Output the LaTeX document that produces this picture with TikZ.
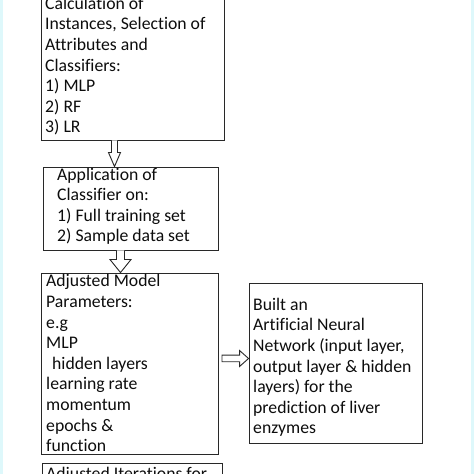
\documentclass[tikz,border=0pt]{standalone}
\usepackage{fontspec}
\setmainfont{Carlito}[Ligatures=NoCommon]
\usetikzlibrary{calc}
\definecolor{edgecyan}{RGB}{222,248,251}
\definecolor{inkc}{RGB}{40,40,40}
\tikzset{
  box/.style={draw=inkc, line width=0.9pt, fill=white, inner sep=0pt, rectangle},
  txt/.style={anchor=north west, align=left, inner sep=0pt, text=black!95,
    font=\fontsize{17.7}{20.6}\selectfont},
  blk/.style={draw=inkc, line width=0.9pt, fill=white, line join=miter}
}
\newcommand{\fs}{\rule{0pt}{14pt}}
\begin{document}
\begin{tikzpicture}[x=1pt,y=1pt]
\useasboundingbox (0,0) rectangle (474,474);
\clip (0,0) rectangle (474,474);
\fill[white] (0,0) rectangle (474,474);
\fill[edgecyan] (0,0) rectangle (3,474);
\fill[edgecyan] (471,0) rectangle (474,474);
% boxes
\node[box, minimum width=183pt, minimum height=150pt] (b1) at (132.5,409) {};
\node[box, minimum width=175pt, minimum height=83pt] (b2) at (130.5,265.5) {};
\node[box, minimum width=177pt, minimum height=181pt] (b3) at (129.5,110.5) {};
\node[box, minimum width=180pt, minimum height=37pt] (b4) at (132,-7.5) {};
\node[box, minimum width=173pt, minimum height=160pt] (b5) at (335.5,111) {};
% texts
\node[txt] (t1) at (45,478.8) {\fs Calculation of\\Instances, Selection of\\Attributes and\\Classifiers:\\1) MLP\\2) RF\\3) LR};
\node[txt] (t2) at (57,308) {\fs Application of\\Classifier on:\\1) Full training set\\2) Sample data set};
\node[txt] (t3) at (46,201.3) {\fs Adjusted Model\\Parameters:\\e.g\\MLP\\\hspace*{6pt}hidden layers\\learning rate\\momentum\\epochs \&\\function};
\node[txt] (t4) at (46,8.5) {\fs Adjusted Iterations for};
\node[txt] (t5) at (253,178) {\fs Built an\\Artificial Neural\\Network (input layer,\\output layer \& hidden\\layers) for the\\prediction of liver\\enzymes};
% block arrows
\draw[blk] let \p1=(b1.south), \p2=(b2.north) in
  (111.5pt,\y1) -- (111.5pt,\y2+14pt) -- (108.5pt,\y2+14pt) -- (114.5pt,\y2)
  -- (120.5pt,\y2+14pt) -- (117.5pt,\y2+14pt) -- (117.5pt,\y1);
\draw[blk] let \p1=(b2.south), \p2=(b3.north) in
  (116.5pt,\y1) -- (116.5pt,\y2+13pt) -- (110pt,\y2+13pt) -- (120.5pt,\y2)
  -- (131pt,\y2+13pt) -- (124.5pt,\y2+13pt) -- (124.5pt,\y1);
\coordinate (a3) at (222,115.5);
\draw[blk] let \p1=(a3), \p2=(b5.west) in
  (\x1,\y1+3.3pt) -- (\x2-9pt,\y1+3.3pt) -- (\x2-9pt,\y1+8pt) -- (\x2,\y1)
  -- (\x2-9pt,\y1-8pt) -- (\x2-9pt,\y1-3.3pt) -- (\x1,\y1-3.3pt) -- cycle;
\end{tikzpicture}
\end{document}
